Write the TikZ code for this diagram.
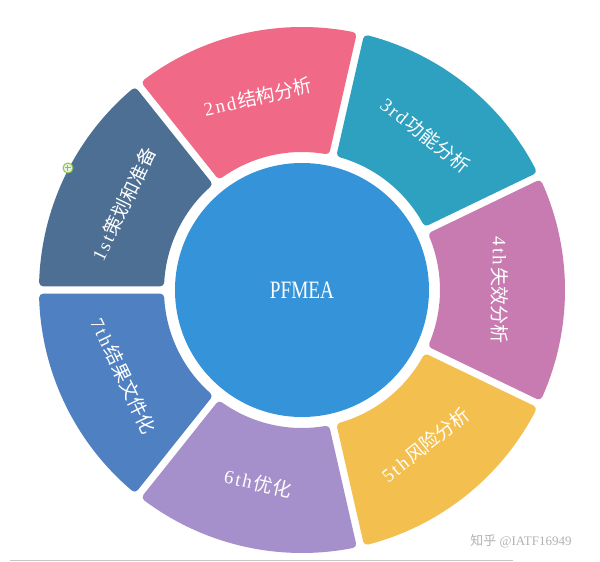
\documentclass[tikz,border=0pt]{standalone}
\usepackage{fontspec}
\setmainfont{Liberation Serif}
\newfontfamily\cjk{Noto Sans CJK SC}
\newfontfamily\lat{Liberation Serif}
\definecolor{cone}{HTML}{4D6F94}
\definecolor{ctwo}{HTML}{F06A87}
\definecolor{cthree}{HTML}{2EA1C0}
\definecolor{cfour}{HTML}{C87BB1}
\definecolor{cfive}{HTML}{F3C04F}
\definecolor{csix}{HTML}{A690CB}
\definecolor{cseven}{HTML}{4F80C2}
\definecolor{cmid}{HTML}{3594D9}
\definecolor{pluscol}{HTML}{8CC152}
\newcommand\ringpiece[2]{%
  \pgfmathsetmacro\aa{#1+1.7}%
  \pgfmathsetmacro\ab{#1+51.4286-1.7}%
  \pgfmathsetmacro\ac{#1+51.4286-3.1}%
  \pgfmathsetmacro\ad{#1+3.1}%
  \path[seg=#2] (\aa:259) arc[start angle=\aa, end angle=\ab, radius=259]
    -- (\ac:142) arc[start angle=\ac, end angle=\ad, radius=142] -- cycle;}
\newcommand\latsp[3]{{\lat #1\kern2pt #2\kern2pt #3\kern2pt}}
\begin{document}
\begin{tikzpicture}[x=1pt,y=1pt,
  seg/.style={fill=#1, draw=#1, line width=8pt, line join=round},
  lbl/.style={text=white, font=\fontsize{19}{21}\selectfont, inner sep=0pt}]
\useasboundingbox (-302,-272) rectangle (298,290);
\fill[white] (-302,-272) rectangle (298,290);
\ringpiece{128.5714}{cone}
\ringpiece{77.1429}{ctwo}
\ringpiece{25.7143}{cthree}
\ringpiece{-25.7143}{cfour}
\ringpiece{-77.1429}{cfive}
\ringpiece{-128.5714}{csix}
\ringpiece{180}{cseven}
\node[circle, fill=cmid, minimum size=254pt, inner sep=0pt, text=white] (center) at (0,0)
  {\fontsize{25}{28}\selectfont\scalebox{0.77}[1]{PFMEA}};
\node[lbl, rotate=64.29] (l1) at (154.29:198) {\latsp{1}{s}{t}{\cjk 策划和准备}};
\node[lbl, rotate=12.86] (l2) at (102.86:198) {\latsp{2}{n}{d}{\cjk 结构分析}};
\node[lbl, rotate=-38.57] (l3) at (51.43:198) {\latsp{3}{r}{d}{\cjk 功能分析}};
\node[lbl, rotate=-90] (l4) at (0:198) {\latsp{4}{t}{h}{\cjk 失效分析}};
\node[lbl, rotate=38.57] (l5) at (-51.43:198) {\latsp{5}{t}{h}{\cjk 风险分析}};
\node[lbl, rotate=-12.86] (l6) at (-102.86:198) {\latsp{6}{t}{h}{\cjk 优化}};
\node[lbl, rotate=-64.29] (l7) at (-154.29:198) {\latsp{7}{t}{h}{\cjk 结果文件化}};
\node[circle, draw=pluscol, fill=pluscol!20, line width=1pt, minimum size=10pt, inner sep=0pt] (plusmark) at (-234,122) {};
\draw[pluscol, line width=1pt] ([xshift=-3pt]plusmark.center) -- ([xshift=3pt]plusmark.center);
\draw[pluscol, line width=1pt] ([yshift=-3pt]plusmark.center) -- ([yshift=3pt]plusmark.center);
\node[text=gray!60, font=\fontsize{13}{14}\selectfont, inner sep=0pt] (wm) at (219,-251) {{\cjk 知乎} @IATF16949};
\coordinate (lineL) at (-292,-270);
\coordinate (lineR) at (211,-270);
\draw[gray!45, line width=0.8pt] (lineL) -- (lineR);
\end{tikzpicture}
\end{document}
